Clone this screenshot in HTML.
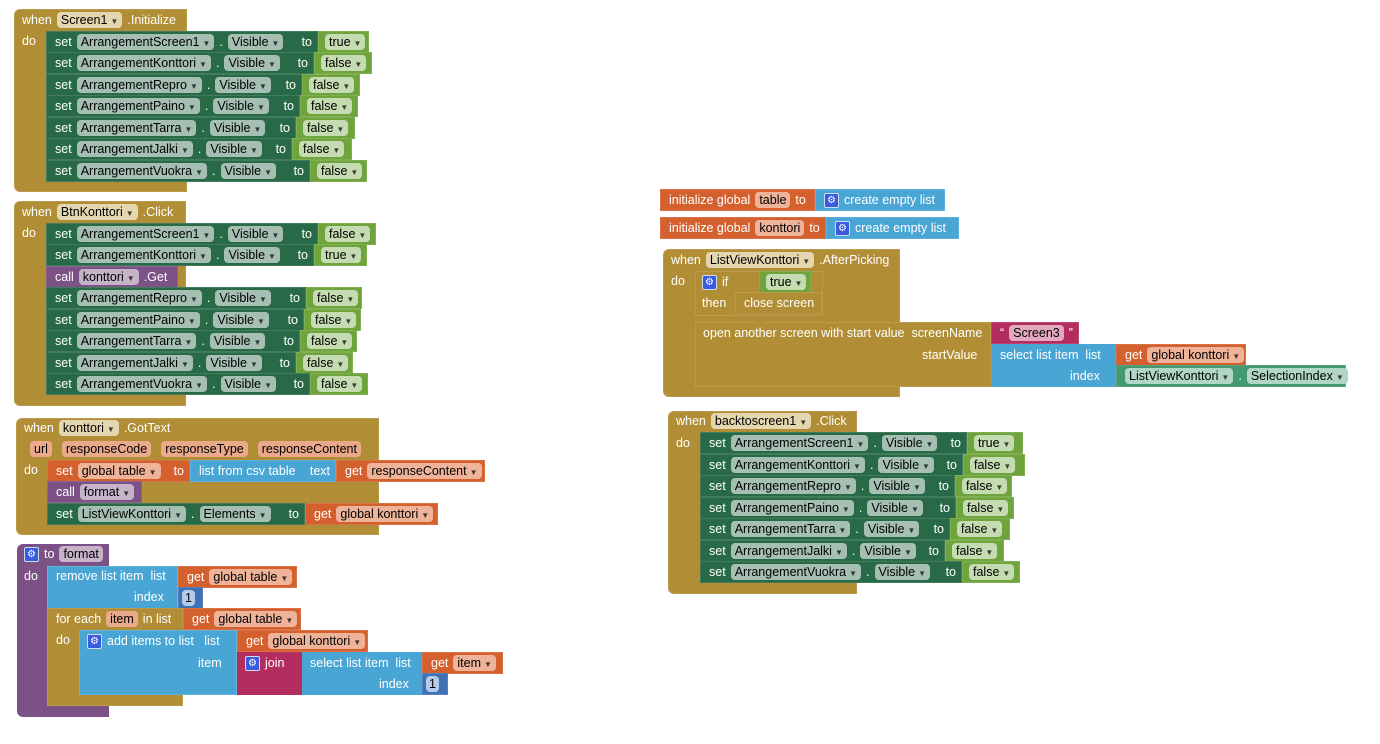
<!DOCTYPE html>
<html><head><meta charset="utf-8"><style>
body{margin:0;width:1380px;height:744px;background:#fff;position:relative;overflow:hidden;font:12.5px "Liberation Sans",Arial,sans-serif;color:#fff}
.b{position:absolute;box-sizing:border-box}
.gd{background:#b18e35;border:1px solid rgba(255,255,255,.12)}
.r{position:absolute;display:flex;height:22px;white-space:nowrap}
.s{height:100%;display:flex;align-items:center;padding:0 5px 0 8px;gap:5px;box-sizing:border-box;border:1px solid rgba(255,255,255,.12)}
.g{background:#286a47}.v{background:#6fa43d;padding-left:6px}.o{background:#d4602e}.bl{background:#49a6d4}.pu{background:#7c5185}.m{background:#b32d5e}.mb{background:#3f71b5}.cg{background:#439970}.go{background:#b18e35}
.p{background:rgba(255,255,255,.55);color:#000;border-radius:4px;padding:0 4px;height:16px;line-height:16px}
.g .p{background:#a5c0b3}.v .p{background:#c5dbb1}.o .p{background:#efb39a}.go .p{background:#e4d6ae}.pu .p{background:#c6b3ca}.m .p{background:#e4a8bf}.cg .p{background:#b2d6c5}.mb .p{background:#b4cbe9}
.a{font-size:8px;opacity:.7;margin-left:3px}
.to{margin-left:auto}
.t{position:absolute;white-space:nowrap;display:flex;align-items:center;gap:5px;height:22px}
.ic{display:inline-block;width:13px;height:13px;background:#3a5be0;border:1px solid #cde;border-radius:2px;color:#fff;font-size:10px;line-height:13px;text-align:center}
</style></head><body>

<div class="b gd" style="left:14px;top:9px;width:173px;height:183px;border-radius:6px 0 0 6px"></div>
<div class="t" style="left:22px;top:9px">when <span class="p" style="background:#e4d6ae">Screen1<span class="a">▼</span></span> .Initialize</div>
<div class="t" style="left:22px;top:30px">do</div>
<div class="r" style="left:46px;top:31px"><div class="s g" style="width:272px">set <span class="p">ArrangementScreen1<span class="a">▼</span></span> . <span class="p">Visible<span class="a">▼</span></span><span class="to">to</span></div><div class="s v" style="width:51px"><span class="p">true<span class="a">▼</span></span></div></div>
<div class="r" style="left:46px;top:52px"><div class="s g" style="width:268px">set <span class="p">ArrangementKonttori<span class="a">▼</span></span> . <span class="p">Visible<span class="a">▼</span></span><span class="to">to</span></div><div class="s v" style="width:58px"><span class="p">false<span class="a">▼</span></span></div></div>
<div class="r" style="left:46px;top:74px"><div class="s g" style="width:256px">set <span class="p">ArrangementRepro<span class="a">▼</span></span> . <span class="p">Visible<span class="a">▼</span></span><span class="to">to</span></div><div class="s v" style="width:58px"><span class="p">false<span class="a">▼</span></span></div></div>
<div class="r" style="left:46px;top:95px"><div class="s g" style="width:254px">set <span class="p">ArrangementPaino<span class="a">▼</span></span> . <span class="p">Visible<span class="a">▼</span></span><span class="to">to</span></div><div class="s v" style="width:58px"><span class="p">false<span class="a">▼</span></span></div></div>
<div class="r" style="left:46px;top:117px"><div class="s g" style="width:250px">set <span class="p">ArrangementTarra<span class="a">▼</span></span> . <span class="p">Visible<span class="a">▼</span></span><span class="to">to</span></div><div class="s v" style="width:59px"><span class="p">false<span class="a">▼</span></span></div></div>
<div class="r" style="left:46px;top:138px"><div class="s g" style="width:246px">set <span class="p">ArrangementJalki<span class="a">▼</span></span> . <span class="p">Visible<span class="a">▼</span></span><span class="to">to</span></div><div class="s v" style="width:60px"><span class="p">false<span class="a">▼</span></span></div></div>
<div class="r" style="left:46px;top:160px"><div class="s g" style="width:264px">set <span class="p">ArrangementVuokra<span class="a">▼</span></span> . <span class="p">Visible<span class="a">▼</span></span><span class="to">to</span></div><div class="s v" style="width:57px"><span class="p">false<span class="a">▼</span></span></div></div>

<div class="b gd" style="left:14px;top:201px;width:172px;height:205px;border-radius:6px 0 0 6px"></div>
<div class="t" style="left:22px;top:201px">when <span class="p" style="background:#e4d6ae">BtnKonttori<span class="a">▼</span></span> .Click</div>
<div class="t" style="left:22px;top:222px">do</div>
<div class="r" style="left:46px;top:223px"><div class="s g" style="width:272px">set <span class="p">ArrangementScreen1<span class="a">▼</span></span> . <span class="p">Visible<span class="a">▼</span></span><span class="to">to</span></div><div class="s v" style="width:58px"><span class="p">false<span class="a">▼</span></span></div></div>
<div class="r" style="left:46px;top:244px"><div class="s g" style="width:268px">set <span class="p">ArrangementKonttori<span class="a">▼</span></span> . <span class="p">Visible<span class="a">▼</span></span><span class="to">to</span></div><div class="s v" style="width:53px"><span class="p">true<span class="a">▼</span></span></div></div>
<div class="r" style="left:46px;top:266px"><div class="s pu" style="width:132px">call <span class="p">konttori<span class="a">▼</span></span> .Get</div></div>
<div class="r" style="left:46px;top:287px"><div class="s g" style="width:260px">set <span class="p">ArrangementRepro<span class="a">▼</span></span> . <span class="p">Visible<span class="a">▼</span></span><span class="to">to</span></div><div class="s v" style="width:56px"><span class="p">false<span class="a">▼</span></span></div></div>
<div class="r" style="left:46px;top:309px"><div class="s g" style="width:258px">set <span class="p">ArrangementPaino<span class="a">▼</span></span> . <span class="p">Visible<span class="a">▼</span></span><span class="to">to</span></div><div class="s v" style="width:57px"><span class="p">false<span class="a">▼</span></span></div></div>
<div class="r" style="left:46px;top:330px"><div class="s g" style="width:254px">set <span class="p">ArrangementTarra<span class="a">▼</span></span> . <span class="p">Visible<span class="a">▼</span></span><span class="to">to</span></div><div class="s v" style="width:57px"><span class="p">false<span class="a">▼</span></span></div></div>
<div class="r" style="left:46px;top:352px"><div class="s g" style="width:250px">set <span class="p">ArrangementJalki<span class="a">▼</span></span> . <span class="p">Visible<span class="a">▼</span></span><span class="to">to</span></div><div class="s v" style="width:57px"><span class="p">false<span class="a">▼</span></span></div></div>
<div class="r" style="left:46px;top:373px"><div class="s g" style="width:264px">set <span class="p">ArrangementVuokra<span class="a">▼</span></span> . <span class="p">Visible<span class="a">▼</span></span><span class="to">to</span></div><div class="s v" style="width:58px"><span class="p">false<span class="a">▼</span></span></div></div>

<div class="b gd" style="left:16px;top:418px;width:363px;height:117px;border-radius:6px 0 0 6px"></div>
<div class="t" style="left:24px;top:417px">when <span class="p" style="background:#e4d6ae">konttori<span class="a">▼</span></span> .GotText</div>
<div class="t" style="left:30px;top:438px;gap:10px"><span class="p" style="background:#e9a98a">url</span><span class="p" style="background:#e9a98a">responseCode</span><span class="p" style="background:#e9a98a">responseType</span><span class="p" style="background:#e9a98a">responseContent</span></div>
<div class="t" style="left:24px;top:459px">do</div>
<div class="r" style="left:47px;top:460px"><div class="s o" style="width:143px">set <span class="p">global table<span class="a">▼</span></span><span class="to">to</span></div><div class="s bl" style="width:146px">list from csv table <span class="to">text</span></div><div class="s o" style="width:149px">get <span class="p">responseContent<span class="a">▼</span></span></div></div>
<div class="r" style="left:47px;top:481px"><div class="s pu" style="width:95px">call <span class="p">format<span class="a">▼</span></span></div></div>
<div class="r" style="left:47px;top:503px"><div class="s g" style="width:258px">set <span class="p">ListViewKonttori<span class="a">▼</span></span> . <span class="p">Elements<span class="a">▼</span></span><span class="to">to</span></div><div class="s o" style="width:133px">get <span class="p">global konttori<span class="a">▼</span></span></div></div>

<div class="b" style="left:17px;top:544px;width:92px;height:173px;background:#7c5185;border-radius:6px 0 0 6px"></div>
<div class="t" style="left:24px;top:543px"><span class="ic">⚙</span> to <span class="p" style="background:#c6b3ca">format</span></div>
<div class="t" style="left:24px;top:565px">do</div>
<div class="b bl" style="left:47px;top:566px;width:131px;height:43px;border:1px solid rgba(255,255,255,.15)"></div>
<div class="t" style="left:56px;top:565px">remove list item&nbsp; list</div>
<div class="t" style="left:134px;top:586px">index</div>
<div class="r" style="left:178px;top:566px"><div class="s o" style="width:119px">get <span class="p">global table<span class="a">▼</span></span></div></div>
<div class="r" style="left:178px;top:587px"><div class="s mb" style="width:25px;padding:0 3px"><span class="p" style="padding:0 3px">1</span></div></div>
<div class="b gd" style="left:47px;top:608px;width:136px;height:98px"></div>
<div class="t" style="left:56px;top:608px">for each <span class="p" style="background:#e9a98a">item</span> in list</div>
<div class="t" style="left:56px;top:629px">do</div>
<div class="r" style="left:183px;top:608px"><div class="s o" style="width:118px">get <span class="p">global table<span class="a">▼</span></span></div></div>
<div class="b bl" style="left:79px;top:630px;width:158px;height:65px;border:1px solid rgba(255,255,255,.15)"></div>
<div class="t" style="left:87px;top:630px"><span class="ic">⚙</span> add items to list&nbsp;&nbsp; list</div>
<div class="t" style="left:198px;top:652px">item</div>
<div class="r" style="left:237px;top:630px"><div class="s o" style="width:131px">get <span class="p">global konttori<span class="a">▼</span></span></div></div>
<div class="b m" style="left:237px;top:652px;width:65px;height:43px"></div>
<div class="t" style="left:245px;top:652px"><span class="ic">⚙</span> join</div>
<div class="b bl" style="left:302px;top:652px;width:120px;height:43px"></div>
<div class="t" style="left:310px;top:652px">select list item&nbsp; list</div>
<div class="t" style="left:379px;top:673px">index</div>
<div class="r" style="left:422px;top:652px"><div class="s o" style="width:81px">get <span class="p">item<span class="a">▼</span></span></div></div>
<div class="r" style="left:422px;top:673px"><div class="s mb" style="width:26px;padding:0 3px"><span class="p" style="padding:0 3px">1</span></div></div>

<div class="r" style="left:660px;top:189px"><div class="s o" style="width:155px">initialize global <span class="p">table</span> to</div><div class="s bl" style="width:130px"><span class="ic">⚙</span> create empty list</div></div>
<div class="r" style="left:660px;top:217px"><div class="s o" style="width:166px">initialize global <span class="p">konttori</span> to</div><div class="s bl" style="width:133px"><span class="ic">⚙</span> create empty list</div></div>

<div class="b gd" style="left:663px;top:249px;width:237px;height:148px;border-radius:6px 0 0 6px"></div>
<div class="t" style="left:671px;top:249px">when <span class="p" style="background:#e4d6ae">ListViewKonttori<span class="a">▼</span></span> .AfterPicking</div>
<div class="t" style="left:671px;top:270px">do</div>
<div class="b gd" style="left:695px;top:271px;width:128px;height:45px"></div>
<div class="t" style="left:702px;top:271px"><span class="ic">⚙</span> if</div>
<div class="t" style="left:702px;top:292px">then</div>
<div class="r" style="left:759px;top:271px"><div class="s v" style="width:52px"><span class="p">true<span class="a">▼</span></span></div></div>
<div class="r" style="left:735px;top:292px"><div class="s go" style="width:87px">close screen</div></div>
<div class="b gd" style="left:695px;top:322px;width:296px;height:65px"></div>
<div class="t" style="left:703px;top:322px">open another screen with start value&nbsp; screenName</div>
<div class="t" style="left:922px;top:344px">startValue</div>
<div class="r" style="left:991px;top:322px"><div class="s m" style="width:88px">“ <span class="p">Screen3</span> ”</div></div>
<div class="b bl" style="left:991px;top:344px;width:125px;height:43px"></div>
<div class="t" style="left:1000px;top:344px">select list item&nbsp; list</div>
<div class="t" style="left:1070px;top:365px">index</div>
<div class="r" style="left:1116px;top:344px"><div class="s o" style="width:130px">get <span class="p">global konttori<span class="a">▼</span></span></div></div>
<div class="r" style="left:1116px;top:365px"><div class="s cg" style="width:230px"><span class="p">ListViewKonttori<span class="a">▼</span></span> . <span class="p">SelectionIndex<span class="a">▼</span></span></div></div>

<div class="b gd" style="left:668px;top:411px;width:189px;height:183px;border-radius:6px 0 0 6px"></div>
<div class="t" style="left:676px;top:410px">when <span class="p" style="background:#e4d6ae">backtoscreen1<span class="a">▼</span></span> .Click</div>
<div class="t" style="left:676px;top:432px">do</div>
<div class="r" style="left:700px;top:432px"><div class="s g" style="width:267px">set <span class="p">ArrangementScreen1<span class="a">▼</span></span> . <span class="p">Visible<span class="a">▼</span></span><span class="to">to</span></div><div class="s v" style="width:56px"><span class="p">true<span class="a">▼</span></span></div></div>
<div class="r" style="left:700px;top:454px"><div class="s g" style="width:263px">set <span class="p">ArrangementKonttori<span class="a">▼</span></span> . <span class="p">Visible<span class="a">▼</span></span><span class="to">to</span></div><div class="s v" style="width:62px"><span class="p">false<span class="a">▼</span></span></div></div>
<div class="r" style="left:700px;top:475px"><div class="s g" style="width:255px">set <span class="p">ArrangementRepro<span class="a">▼</span></span> . <span class="p">Visible<span class="a">▼</span></span><span class="to">to</span></div><div class="s v" style="width:57px"><span class="p">false<span class="a">▼</span></span></div></div>
<div class="r" style="left:700px;top:497px"><div class="s g" style="width:256px">set <span class="p">ArrangementPaino<span class="a">▼</span></span> . <span class="p">Visible<span class="a">▼</span></span><span class="to">to</span></div><div class="s v" style="width:58px"><span class="p">false<span class="a">▼</span></span></div></div>
<div class="r" style="left:700px;top:518px"><div class="s g" style="width:250px">set <span class="p">ArrangementTarra<span class="a">▼</span></span> . <span class="p">Visible<span class="a">▼</span></span><span class="to">to</span></div><div class="s v" style="width:60px"><span class="p">false<span class="a">▼</span></span></div></div>
<div class="r" style="left:700px;top:540px"><div class="s g" style="width:245px">set <span class="p">ArrangementJalki<span class="a">▼</span></span> . <span class="p">Visible<span class="a">▼</span></span><span class="to">to</span></div><div class="s v" style="width:59px"><span class="p">false<span class="a">▼</span></span></div></div>
<div class="r" style="left:700px;top:561px"><div class="s g" style="width:262px">set <span class="p">ArrangementVuokra<span class="a">▼</span></span> . <span class="p">Visible<span class="a">▼</span></span><span class="to">to</span></div><div class="s v" style="width:58px"><span class="p">false<span class="a">▼</span></span></div></div>

</body></html>
